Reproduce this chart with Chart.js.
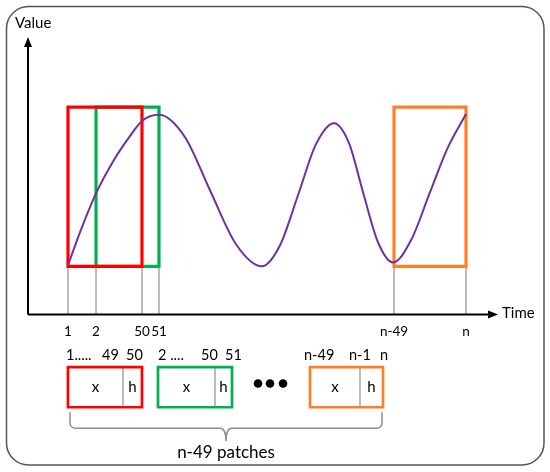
<!DOCTYPE html>
<html>
<head>
<meta charset="utf-8">
<script src="https://cdn.jsdelivr.net/npm/chart.js@4.4.1/dist/chart.umd.min.js"></script>
<style>
  html, body { margin: 0; padding: 0; background: #fff; }
</style>
</head>
<body>
<canvas id="windowChart" width="550" height="472"></canvas>
<script>
// positions on the (schematic) time axis and what they are called
const tickPositions = [8.62, 14.66, 24.57, 28.23, 78.88, 94.4];
const tickLabels = ["1", "2", "50", "51", "n-49", "n"];

// the signal
const curveTime = [8.62, 11.2, 14.66, 18.75, 21.98, 24.57, 28.23, 33.84, 39.22, 44.83, 50.43,
  54.31, 58.19, 62.07, 65.95, 69.18, 72.2, 75.43, 78.66, 82.54, 86.64, 90.52, 94.4];
const curveValue = [1.78, 2.97, 4.38, 5.65, 6.45, 7.0, 7.22, 6.41, 4.49, 2.54, 1.74,
  2.5, 4.31, 6.16, 6.92, 6.2, 4.42, 2.61, 1.88, 2.68, 4.42, 6.05, 7.25];

// sliding windows, as indexes into tickPositions
const windowFrom = [0, 1, 4];
const windowTo = [2, 3, 5];
const windowLow = 1.74;
const windowHigh = 7.5;

// the patches built from each window
const patchFrom = [8.62, 28.02, 60.78];
const patchSplit = [20.47, 40.3, 71.55];
const patchTo = [24.57, 43.97, 76.51];
const patchTop = -1.91;
const patchBottom = -3.36;
const patchHeads = [["1.....", "49", "50"], ["2 ....", "50", "51"], ["n-49", "n-1", "n"]];
const patchHeadAt = [[8.19, 15.95, 21.12], [28.02, 37.28, 42.46], [59.48, 69.18, 75.86]];
const dotTime = [49.57, 52.16, 54.96];
const dotValue = [-2.5, -2.5, -2.5];

const colors = ["#ff0000", "#00b050", "#ff7f27"];
const FONT = "Lato, 'Open Sans', sans-serif";

function rect(x0, x1, y0, y1) {
  return [{x: x0, y: y0}, {x: x1, y: y0}, {x: x1, y: y1}, {x: x0, y: y1}, {x: x0, y: y0}];
}

const datasets = [];

datasets.push({
  data: curveTime.map((t, i) => ({x: t, y: curveValue[i]})),
  borderColor: "#7030a0",
  borderWidth: 2,
  cubicInterpolationMode: "monotone",
  pointRadius: 0
});

windowFrom.forEach((f, i) => {
  datasets.push({
    data: rect(tickPositions[f], tickPositions[windowTo[i]], windowLow, windowHigh),
    borderColor: colors[i],
    borderWidth: 3.2,
    borderJoinStyle: "miter",
    borderCapStyle: "square",
    tension: 0,
    pointRadius: 0
  });
});

// gray drop lines from the windows to the axis
const drops = [];
tickPositions.forEach((t) => {
  drops.push({x: t, y: windowLow}, {x: t, y: 0}, {x: t, y: null});
});
datasets.push({data: drops, borderColor: "#a6a6a6", borderWidth: 1.5, pointRadius: 0, tension: 0});

patchFrom.forEach((f, i) => {
  datasets.push({
    data: rect(f, patchTo[i], patchTop, patchBottom),
    borderColor: colors[i],
    borderWidth: 2.7,
    borderJoinStyle: "miter",
    borderCapStyle: "square",
    tension: 0,
    pointRadius: 0
  });
});

const splits = [];
patchSplit.forEach((s) => {
  splits.push({x: s, y: patchTop}, {x: s, y: patchBottom}, {x: s, y: null});
});
datasets.push({data: splits, borderColor: "#a6a6a6", borderWidth: 1.5, pointRadius: 0, tension: 0});

datasets.push({
  data: dotTime.map((t, i) => ({x: t, y: dotValue[i]})),
  showLine: false,
  pointRadius: 4.3,
  pointBackgroundColor: "#000",
  pointBorderWidth: 0
});

const diagram = {
  id: "diagram",
  beforeDraw(chart) {
    const ctx = chart.ctx;
    ctx.save();
    ctx.fillStyle = "#fff";
    ctx.fillRect(0, 0, chart.width, chart.height);
    const x = 6.5, y = 6.5, w = 537.5, h = 458.5, r = 22;
    ctx.beginPath();
    ctx.moveTo(x + r, y);
    ctx.lineTo(x + w - r, y);
    ctx.arcTo(x + w, y, x + w, y + r, r);
    ctx.lineTo(x + w, y + h - r);
    ctx.arcTo(x + w, y + h, x + w - r, y + h, r);
    ctx.lineTo(x + r, y + h);
    ctx.arcTo(x, y + h, x, y + h - r, r);
    ctx.lineTo(x, y + r);
    ctx.arcTo(x, y, x + r, y, r);
    ctx.closePath();
    ctx.strokeStyle = "#555";
    ctx.lineWidth = 1.5;
    ctx.stroke();
    ctx.restore();
  },
  afterDatasetsDraw(chart) {
    const ctx = chart.ctx;
    const xs = chart.scales.x, ys = chart.scales.y;
    const x0 = xs.getPixelForValue(0), y0 = ys.getPixelForValue(0);
    const top = ys.getPixelForValue(10), right = xs.getPixelForValue(100);
    ctx.save();

    // axes with arrow heads
    ctx.strokeStyle = "#000";
    ctx.fillStyle = "#000";
    ctx.lineWidth = 2;
    ctx.beginPath();
    ctx.moveTo(x0, y0);
    ctx.lineTo(x0, top + 6);
    ctx.moveTo(x0, y0);
    ctx.lineTo(right, y0);
    ctx.stroke();
    ctx.beginPath();
    ctx.moveTo(x0, top - 1);
    ctx.lineTo(x0 - 4, top + 9);
    ctx.lineTo(x0 + 4, top + 9);
    ctx.closePath();
    ctx.fill();
    ctx.beginPath();
    ctx.moveTo(right + 6, y0);
    ctx.lineTo(right - 4, y0 - 4);
    ctx.lineTo(right - 4, y0 + 4);
    ctx.closePath();
    ctx.fill();

    ctx.textBaseline = "middle";
    ctx.textAlign = "left";
    ctx.font = "15px " + FONT;
    ctx.fillText("Value", 15, 23);
    ctx.fillText("Time", right + 10, y0 - 1);

    // patch headings and contents
    ctx.font = "14.5px " + FONT;
    patchHeads.forEach((row, i) => {
      row.forEach((txt, j) => {
        ctx.fillText(txt, xs.getPixelForValue(patchHeadAt[i][j]), ys.getPixelForValue(patchTop) - 12);
      });
    });
    ctx.textAlign = "center";
    ctx.font = "15px " + FONT;
    const mid = ys.getPixelForValue((patchTop + patchBottom) / 2);
    patchFrom.forEach((f, i) => {
      ctx.fillText("x", xs.getPixelForValue((f + patchSplit[i]) / 2), mid);
      ctx.fillText("h", xs.getPixelForValue((patchSplit[i] + patchTo[i]) / 2), mid);
    });

    // brace under all patches
    const bl = xs.getPixelForValue(patchFrom[0]) + 2;
    const br = xs.getPixelForValue(patchTo[patchTo.length - 1]) - 1;
    const bc = (bl + br) / 2;
    const bt = ys.getPixelForValue(patchBottom) + 5;
    const bm = bt + 16;
    const bb = bm + 13;
    const r = 6;
    ctx.strokeStyle = "#8c8c8c";
    ctx.lineWidth = 1.5;
    ctx.beginPath();
    ctx.moveTo(bl, bt);
    ctx.lineTo(bl, bm - r);
    ctx.quadraticCurveTo(bl, bm, bl + r, bm);
    ctx.lineTo(bc - r, bm);
    ctx.quadraticCurveTo(bc, bm, bc, bb);
    ctx.quadraticCurveTo(bc, bm, bc + r, bm);
    ctx.lineTo(br - r, bm);
    ctx.quadraticCurveTo(br, bm, br, bm - r);
    ctx.lineTo(br, bt);
    ctx.stroke();

    ctx.fillStyle = "#000";
    ctx.font = "17px " + FONT;
    ctx.fillText("n-49 patches", bc, bb + 11);
    ctx.restore();
  }
};

new Chart(document.getElementById("windowChart").getContext("2d"), {
  type: "line",
  data: {datasets: datasets},
  options: {
    responsive: false,
    animation: false,
    layout: {padding: {left: 28, right: 58, top: 38, bottom: 19.4}},
    plugins: {legend: {display: false}, tooltip: {enabled: false}},
    scales: {
      x: {
        type: "linear",
        position: {y: 0},
        min: 0,
        max: 100,
        grid: {display: false, drawTicks: false},
        border: {display: false},
        afterBuildTicks: (scale) => {
          scale.ticks = tickPositions.map((v) => ({value: v}));
        },
        ticks: {
          autoSkip: false,
          maxRotation: 0,
          minRotation: 0,
          padding: 9,
          color: "#000",
          font: {family: FONT, size: 13.5},
          callback: (value, index) => tickLabels[index]
        }
      },
      y: {type: "linear", min: -5, max: 10, display: false}
    }
  },
  plugins: [diagram]
});
</script>
</body>
</html>
